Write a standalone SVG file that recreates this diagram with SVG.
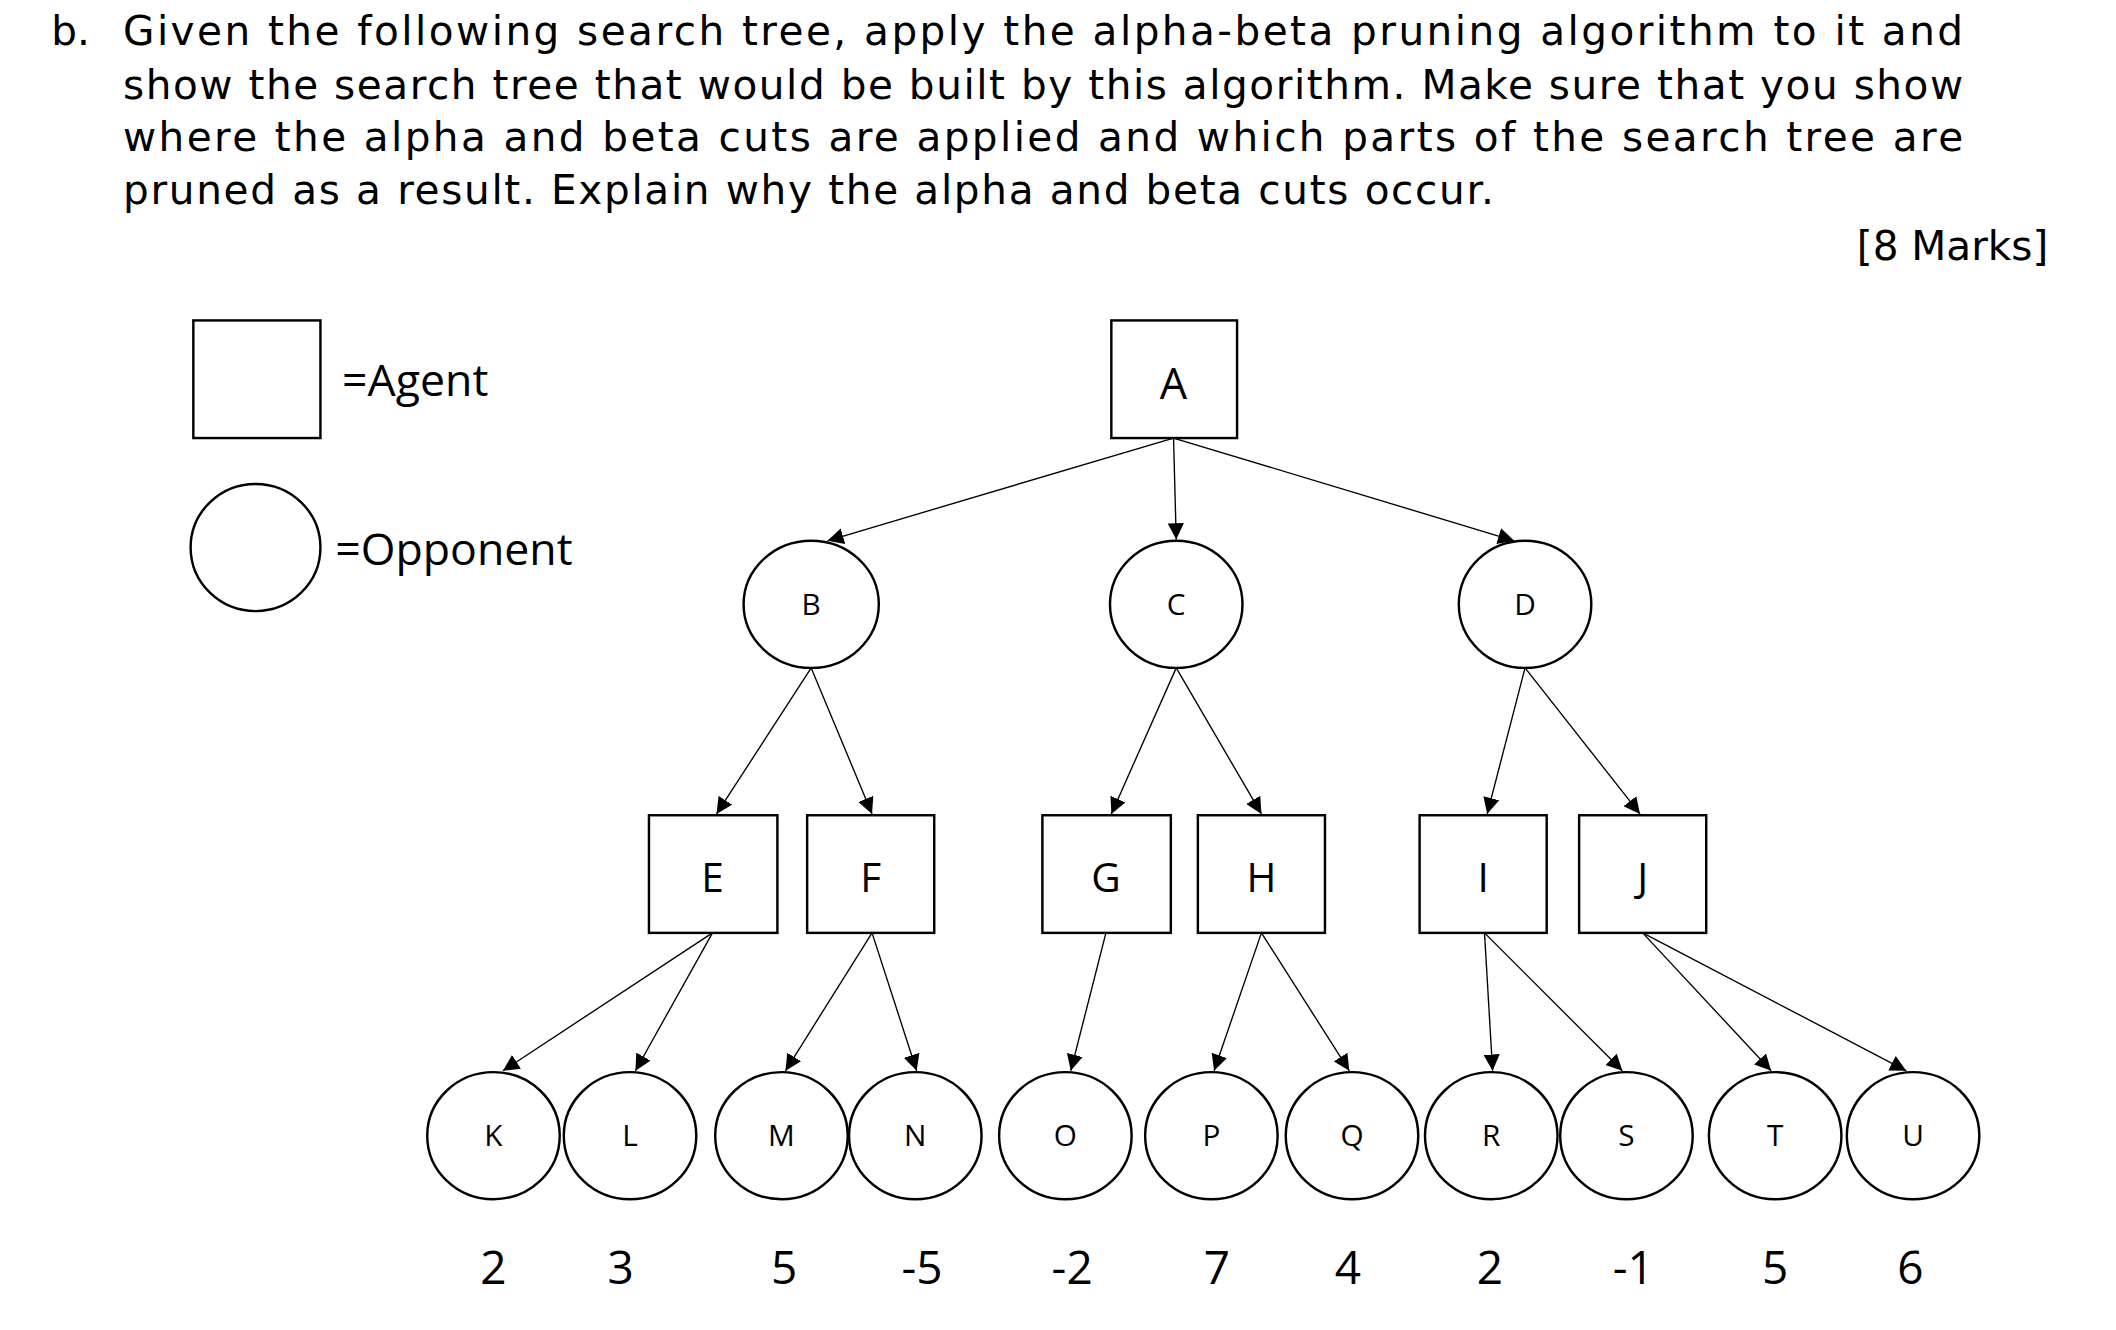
<svg xmlns="http://www.w3.org/2000/svg" width="2116" height="1330" viewBox="0 0 2116 1330">
<defs>
<marker id="ar" viewBox="0 0 10 10" refX="10" refY="5" markerWidth="12" markerHeight="12" markerUnits="userSpaceOnUse" orient="auto"><path d="M0,0 L10,5 L0,10 z" fill="#000"/></marker>
<style>
.q{font-family:"DejaVu Sans",Verdana,sans-serif;font-size:30px;fill:#000}
.c{font-family:"Open Sans","Noto Sans",sans-serif;fill:#000;text-anchor:middle}
.l{font-family:"Open Sans","Noto Sans",sans-serif;fill:#000;font-size:33px}
.n{fill:#fff;stroke:#000;stroke-width:1.8}
.e{stroke:#000;stroke-width:1;fill:none;marker-end:url(#ar)}
</style>
</defs>
<rect width="2116" height="1330" fill="#fff"/>
<g transform="scale(1.352)">
<g id="question">
<text class="q" x="38" y="33">b.</text>
<text class="q" x="91" y="33" textLength="1361" lengthAdjust="spacing">Given the following search tree, apply the alpha-beta pruning algorithm to it and</text>
<text class="q" x="91" y="73" textLength="1361" lengthAdjust="spacing">show the search tree that would be built by this algorithm. Make sure that you show</text>
<text class="q" x="91" y="112" textLength="1361" lengthAdjust="spacing">where the alpha and beta cuts are applied and which parts of the search tree are</text>
<text class="q" x="91" y="151" textLength="1014" lengthAdjust="spacing">pruned as a result. Explain why the alpha and beta cuts occur.</text>
<text class="q" x="1515" y="192" text-anchor="end">[8 Marks]</text>
</g>
<g id="legend">
<rect class="n" x="143" y="237" width="94" height="87"/>
<text class="l" x="253" y="293">=Agent</text>
<ellipse class="n" cx="189" cy="405" rx="48" ry="47"/>
<text class="l" x="248" y="418">=Opponent</text>
</g>
<g id="connectors">
<line class="e" x1="868" y1="324" x2="612" y2="400"/>
<line class="e" x1="868" y1="324" x2="870" y2="399"/>
<line class="e" x1="868" y1="324" x2="1120" y2="400"/>
<line class="e" x1="600" y1="494" x2="530" y2="602"/>
<line class="e" x1="600" y1="494" x2="645" y2="602"/>
<line class="e" x1="870" y1="494" x2="822" y2="602"/>
<line class="e" x1="870" y1="494" x2="933" y2="602"/>
<line class="e" x1="1128" y1="494" x2="1100" y2="602"/>
<line class="e" x1="1128" y1="494" x2="1213" y2="602"/>
<line class="e" x1="527" y1="690" x2="372" y2="792"/>
<line class="e" x1="527" y1="690" x2="470" y2="792"/>
<line class="e" x1="645" y1="690" x2="581" y2="792"/>
<line class="e" x1="645" y1="690" x2="678" y2="792"/>
<line class="e" x1="818" y1="690" x2="792" y2="792"/>
<line class="e" x1="933" y1="690" x2="898" y2="792"/>
<line class="e" x1="933" y1="690" x2="998" y2="792"/>
<line class="e" x1="1098" y1="690" x2="1104" y2="792"/>
<line class="e" x1="1098" y1="690" x2="1200" y2="792"/>
<line class="e" x1="1215" y1="690" x2="1310" y2="792"/>
<line class="e" x1="1215" y1="690" x2="1410" y2="792"/>
</g>
<g id="A"><rect class="n" x="822" y="237" width="93" height="87"/><text class="c" x="868" y="295" font-size="32">A</text></g>
<g id="B"><ellipse class="n" cx="600" cy="447" rx="50" ry="47"/><text class="c" x="600" y="455" font-size="22">B</text></g>
<g id="C"><ellipse class="n" cx="870" cy="447" rx="49" ry="47"/><text class="c" x="870" y="455" font-size="22">C</text></g>
<g id="D"><ellipse class="n" cx="1128" cy="447" rx="49" ry="47"/><text class="c" x="1128" y="455" font-size="22">D</text></g>
<g id="E"><rect class="n" x="480" y="603" width="95" height="87"/><text class="c" x="527" y="660" font-size="30">E</text></g>
<g id="F"><rect class="n" x="597" y="603" width="94" height="87"/><text class="c" x="644" y="660" font-size="30">F</text></g>
<g id="G"><rect class="n" x="771" y="603" width="95" height="87"/><text class="c" x="818" y="660" font-size="30">G</text></g>
<g id="H"><rect class="n" x="886" y="603" width="94" height="87"/><text class="c" x="933" y="660" font-size="30">H</text></g>
<g id="I"><rect class="n" x="1050" y="603" width="94" height="87"/><text class="c" x="1097" y="660" font-size="30">I</text></g>
<g id="J"><rect class="n" x="1168" y="603" width="94" height="87"/><text class="c" x="1215" y="660" font-size="30">J</text></g>
<g id="K"><ellipse class="n" cx="365" cy="840" rx="49" ry="47"/><text class="c" x="365" y="848" font-size="22">K</text></g>
<g id="L"><ellipse class="n" cx="466" cy="840" rx="49" ry="47"/><text class="c" x="466" y="848" font-size="22">L</text></g>
<g id="M"><ellipse class="n" cx="578" cy="840" rx="49" ry="47"/><text class="c" x="578" y="848" font-size="22">M</text></g>
<g id="N"><ellipse class="n" cx="677" cy="840" rx="49" ry="47"/><text class="c" x="677" y="848" font-size="22">N</text></g>
<g id="O"><ellipse class="n" cx="788" cy="840" rx="49" ry="47"/><text class="c" x="788" y="848" font-size="22">O</text></g>
<g id="P"><ellipse class="n" cx="896" cy="840" rx="49" ry="47"/><text class="c" x="896" y="848" font-size="22">P</text></g>
<g id="Q"><ellipse class="n" cx="1000" cy="840" rx="49" ry="47"/><text class="c" x="1000" y="848" font-size="22">Q</text></g>
<g id="R"><ellipse class="n" cx="1103" cy="840" rx="49" ry="47"/><text class="c" x="1103" y="848" font-size="22">R</text></g>
<g id="S"><ellipse class="n" cx="1203" cy="840" rx="49" ry="47"/><text class="c" x="1203" y="848" font-size="22">S</text></g>
<g id="T"><ellipse class="n" cx="1313" cy="840" rx="49" ry="47"/><text class="c" x="1313" y="848" font-size="22">T</text></g>
<g id="U"><ellipse class="n" cx="1415" cy="840" rx="49" ry="47"/><text class="c" x="1415" y="848" font-size="22">U</text></g>
<g id="values">
<text class="c" x="365" y="950" font-size="34">2</text>
<text class="c" x="459" y="950" font-size="34">3</text>
<text class="c" x="580" y="950" font-size="34">5</text>
<text class="c" x="682" y="950" font-size="34">-5</text>
<text class="c" x="793" y="950" font-size="34">-2</text>
<text class="c" x="900" y="950" font-size="34">7</text>
<text class="c" x="997" y="950" font-size="34">4</text>
<text class="c" x="1102" y="950" font-size="34">2</text>
<text class="c" x="1208" y="950" font-size="34">-1</text>
<text class="c" x="1313" y="950" font-size="34">5</text>
<text class="c" x="1413" y="950" font-size="34">6</text>
</g>
</g>
</svg>
